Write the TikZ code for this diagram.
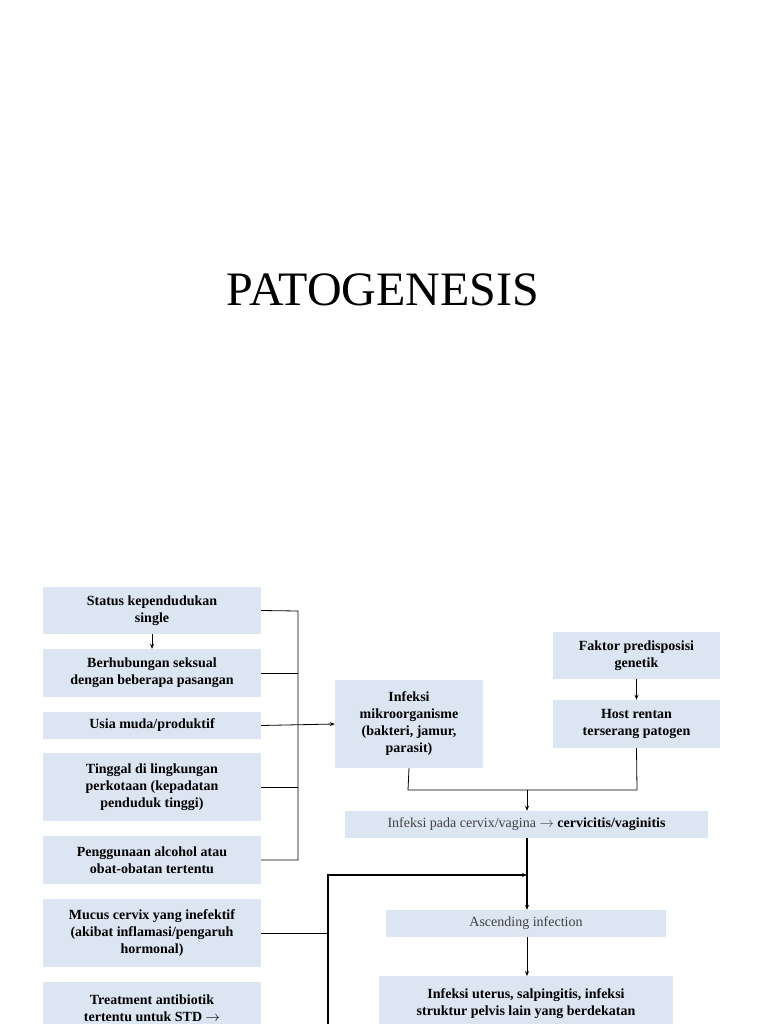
\documentclass[tikz,border=0pt]{standalone}
\usepackage{fontspec}
\setmainfont{Liberation Serif}
\usetikzlibrary{arrows.meta}
\definecolor{bx}{HTML}{DCE6F2}
\definecolor{tg}{HTML}{404040}
\begin{document}
\begin{tikzpicture}[x=1pt,y=-1pt,
 box/.style={fill=bx,inner sep=0pt,align=center,font=\fontsize{14}{17}\selectfont\bfseries},
 ln/.style={draw=black,line width=0.8pt},
 ar/.style={ln,-{Stealth[length=5pt,width=4pt]}}]
\useasboundingbox (0,0) rectangle (768,1024);
\clip (0,0) rectangle (768,1024);
\node (title) at (383,290) {\fontsize{48}{56}\selectfont PATOGENESIS};
\node[box,minimum width=218pt,minimum height=47pt] (s1) at (152,610.5) {Status kependudukan\\single};
\node[box,minimum width=218pt,minimum height=48pt] (s2) at (152,673) {Berhubungan seksual\\dengan beberapa pasangan};
\node[box,minimum width=218pt,minimum height=27pt] (s3) at (152,725.5) {Usia muda/produktif};
\node[box,minimum width=218pt,minimum height=68pt] (s4) at (152,787) {Tinggal di lingkungan\\perkotaan (kepadatan\\penduduk tinggi)};
\node[box,minimum width=218pt,minimum height=48pt] (s5) at (152,860) {Penggunaan alcohol atau\\obat-obatan tertentu};
\node[box,minimum width=218pt,minimum height=68pt] (s6) at (152,933) {Mucus cervix yang inefektif\\(akibat inflamasi/pengaruh\\hormonal)};
\node[box,minimum width=218pt,minimum height=68pt,anchor=north] (s7) at (152,982) {Treatment antibiotik\\tertentu untuk STD $\rightarrow$\\\phantom{x}};
\node[box,minimum width=148pt,minimum height=88pt] (inf) at (409,724) {Infeksi\\mikroorganisme\\(bakteri, jamur,\\parasit)};
\node[box,minimum width=167pt,minimum height=47pt] (fak) at (636.5,655.5) {Faktor predisposisi\\genetik};
\node[box,minimum width=167pt,minimum height=48pt] (host) at (636.5,724) {Host rentan\\terserang patogen};
\node[box,minimum width=363pt,minimum height=27pt,font=\fontsize{14}{17}\selectfont,text=tg] (cerv) at (526.5,824.5) {Infeksi pada cervix/vagina $\rightarrow$ {\color{black}\bfseries cervicitis/vaginitis}};
\node[box,minimum width=280pt,minimum height=27pt,font=\fontsize{14}{17}\selectfont,text=tg] (asc) at (526,923.5) {Ascending infection};
\node[box,minimum width=294pt,minimum height=68pt,anchor=north] (ut) at (526,976) {Infeksi uterus, salpingitis, infeksi\\struktur pelvis lain yang berdekatan\\\phantom{x}};
% left bracket
\coordinate (bt) at (298,611);
\coordinate (bb) at (298,860);
\draw[ln] (s1.east) -- (bt) -- (bb) -- (s5.east);
\draw[ln] (s2.east) -- (298,673);
\draw[ln] (s4.east) -- (298,787);
\draw[ar] (s3.east) -- (inf.west);
\draw[ar] (s1.south) -- (s2.north);
\draw[ar] (fak.south) -- (host.north);
\coordinate (mj) at (527,790);
\draw[ln] (inf.south) -- (408,790) -- (637,790) -- (host.south);
\draw[ar] (mj) -- (cerv.north -| mj);
\draw[ar,line width=1.2pt] (cerv.south -| mj) -- (asc.north -| mj);
\coordinate (lt) at (328,875);
\coordinate (lb) at (328,1030);
\draw[ar,line width=1.2pt] (lb) -- (lt) -- (527,875);
\draw[ln] (s6.east) -- (328,933);
\draw[ar] (asc.south -| mj) -- (ut.north -| mj);
\end{tikzpicture}
\end{document}
